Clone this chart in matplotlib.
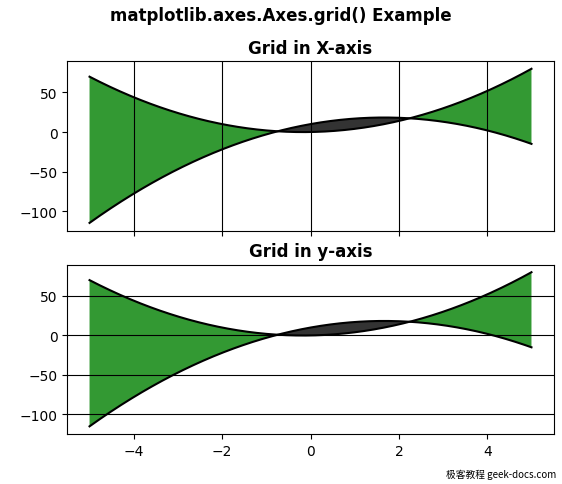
import numpy as np
import matplotlib
matplotlib.use("Agg")
import matplotlib.pyplot as plt

# quadratic coefficients (highest power first)
upper_coef = [3, 1, 0]        # 70 at x=-5, 80 at x=5
lower_coef = [-3, 10, 10]     # -115 at x=-5, -15 at x=5, peak ~18
x_range = (-5, 5.01, 0.01)

x = np.arange(*x_range)
y1 = np.polyval(upper_coef, x)
y2 = np.polyval(lower_coef, x)

fig, axs = plt.subplots(2, 1, sharex=True, figsize=(5.62, 4.85), dpi=100)
fig.subplots_adjust(left=0.12, right=0.985, top=0.872, bottom=0.103, hspace=0.2)
titles = ["Grid in X-axis", "Grid in y-axis"]
for ax, title, axis in zip(axs, titles, ["x", "y"]):
    ax.plot(x, y1, x, y2, color="black")
    ax.fill_between(x, y1, y2, where=y1 >= y2, facecolor="green", alpha=0.8, interpolate=True)
    ax.fill_between(x, y1, y2, where=y1 <= y2, facecolor="black", alpha=0.8, interpolate=True)
    ax.set_title(title, fontweight="bold")
    ax.grid(True, axis=axis, color="black", linewidth=0.8)

fig.suptitle("matplotlib.axes.Axes.grid() Example", fontweight="bold", y=0.985)
fig.text(0.99, 0.01, "极客教程 geek-docs.com", ha="right", va="bottom", fontsize=7,
         family=["Noto Sans CJK SC", "DejaVu Sans"])
fig.savefig("out.png")
